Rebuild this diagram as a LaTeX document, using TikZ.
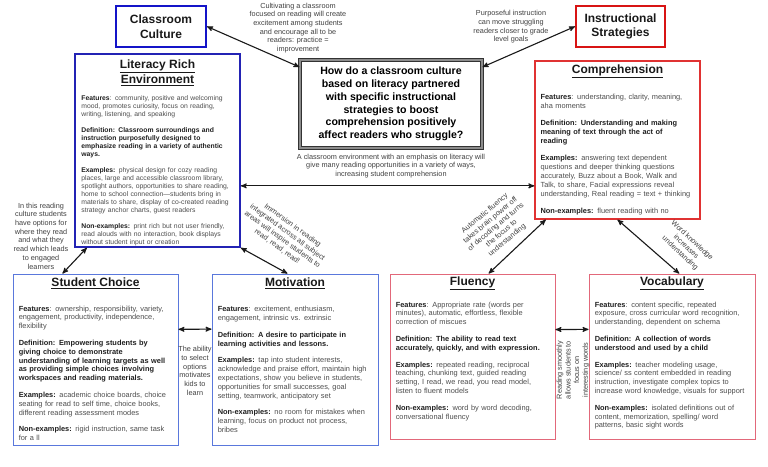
\documentclass[tikz,border=0pt]{standalone}
\usepackage{fontspec}
\setmainfont{Liberation Sans}
\usetikzlibrary{arrows}
\definecolor{cultblue}{HTML}{1414C8}
\definecolor{litblue}{HTML}{2323B4}
\definecolor{lightblue}{HTML}{5A78DC}
\definecolor{strred}{HTML}{D81414}
\definecolor{compred}{HTML}{E03232}
\definecolor{pinkred}{HTML}{E2687A}
\newcommand{\smallnote}{\fontsize{7.3}{8.7}\selectfont}
\newcommand{\bodytext}{\fontsize{7.4}{8.8}\selectfont}
\newcommand{\gap}{\\[8pt]}
\newcommand{\lbl}[1]{\textbf{\color{black!88}#1}}

\begin{document}
\begin{tikzpicture}[x=1pt,y=-1pt,>=stealth']
  \tikzstyle{card}=[rectangle,draw,inner sep=0pt]
  \tikzstyle{head}=[font=\bfseries\fontsize{12}{14.5}\selectfont,align=center,text=black!90]
  \tikzstyle{body}=[anchor=north west,inner sep=0pt,text width=165pt,align=left,
        font=\bodytext,text=black!70]
  \tikzstyle{note}=[align=center,font=\smallnote,text=black!75,inner sep=0pt]
  \tikzstyle{link}=[<->,line width=1.1pt,black!90]
  \useasboundingbox (0,0) rectangle (768,466);

  % top row
  \node [card,head,draw=cultblue,line width=2pt,minimum width=90pt,minimum height=41pt] (cul) at (161,26.5) {Classroom\\Culture};
  \node [card,head,draw=strred,line width=2pt,minimum width=89pt,minimum height=41pt] (ins) at (620.5,26.5) {Instructional\\Strategies};
  \node [card,draw=black!80,double=black!45,line width=1.1pt,double distance=1.6pt,
        minimum width=182pt,minimum height=88pt,align=center,
        font=\bfseries\fontsize{10.6}{12.7}\selectfont] (quest) at (391,104)
        {How do a classroom culture\\based on literacy partnered\\with specific instructional\\strategies to boost\\comprehension positively\\affect readers who struggle?};

  % literacy rich environment
  \node [card,draw=litblue,line width=1.6pt,minimum width=165pt,minimum height=193pt] (lit) at (157.5,150.5) {};
  \node [head] (litH) at ([yshift=-19.5pt]lit.north) {\underline{Literacy Rich}\\\underline{Environment}};
  \node [body,font=\fontsize{6.8}{8}\selectfont] (litB) at ([xshift=7pt,yshift=-42.5pt]lit.north west)
    {\lbl{Features}: community, positive and welcoming\\mood, promotes curiosity, focus on reading,\\writing, listening, and speaking\gap
     \lbl{Definition: Classroom surroundings and}\\\lbl{instruction purposefully designed to}\\\lbl{emphasize reading in a variety of authentic}\\\lbl{ways.}\gap
     \lbl{Examples:} physical design for cozy reading\\places, large and accessible classroom library,\\spotlight authors, opportunities to share reading,\\home to school connection---students bring in\\materials to share, display of co-created reading\\strategy anchor charts, guest readers\gap
     \lbl{Non-examples:} print rich but not user friendly,\\read alouds with no interaction, book displays\\without student input or creation};

  % comprehension
  \node [card,draw=compred,line width=1.3pt,minimum width=165pt,minimum height=158pt] (comp) at (617.5,140) {};
  \node [head] (compH) at ([yshift=-11pt]comp.north) {\underline{Comprehension}};
  \node [body,font=\fontsize{7.4}{9}\selectfont] (compB) at ([xshift=6pt,yshift=-33.5pt]comp.north west)
    {\lbl{Features}: understanding, clarity, meaning,\\aha moments\gap
     \lbl{Definition: Understanding and making}\\\lbl{meaning of text through the act of}\\\lbl{reading}\gap
     \lbl{Examples:} answering text dependent\\questions and deeper thinking questions\\accurately, Buzz about a Book, Walk and\\Talk, to share, Facial expressions reveal\\understanding, Real reading = text + thinking\gap
     \lbl{Non-examples:} fluent reading with no};

  % student choice
  \node [card,draw=lightblue,line width=0.9pt,minimum width=165pt,minimum height=171pt] (cho) at (95.5,359.5) {};
  \node [head] (choH) at ([yshift=-10pt]cho.north) {\underline{Student Choice}};
  \node [body] (choB) at ([xshift=6pt,yshift=-32pt]cho.north west)
    {\lbl{Features}: ownership, responsibility, variety,\\engagement, productivity, independence,\\flexibility\gap
     \lbl{Definition: Empowering students by}\\\lbl{giving choice to demonstrate}\\\lbl{understanding of learning targets as well}\\\lbl{as providing simple choices involving}\\\lbl{workspaces and reading materials.}\gap
     \lbl{Examples:} academic choice boards, choice\\seating for read to self time, choice books,\\different reading assessment modes\gap
     \lbl{Non-examples:} rigid instruction, same task\\for a ll};

  % motivation
  \node [card,draw=lightblue,line width=0.9pt,minimum width=166pt,minimum height=171pt] (mot) at (295,359.5) {};
  \node [head] (motH) at ([yshift=-10pt]mot.north) {\underline{Motivation}};
  \node [body] (motB) at ([xshift=6pt,yshift=-32.5pt]mot.north west)
    {\lbl{Features}: excitement, enthusiasm,\\engagement, intrinsic vs. extrinsic\gap
     \lbl{Definition: A desire to participate in}\\\lbl{learning activities and lessons.}\gap
     \lbl{Examples:} tap into student interests,\\acknowledge and praise effort, maintain high\\expectations, show you believe in students,\\opportunities for small successes, goal\\setting, teamwork, anticipatory set\gap
     \lbl{Non-examples:} no room for mistakes when\\learning, focus on product not process,\\bribes};

  % fluency
  \node [card,draw=pinkred,line width=0.9pt,minimum width=165pt,minimum height=165pt] (flu) at (472.5,356.5) {};
  \node [head] (fluH) at ([yshift=-10pt]flu.north) {\underline{Fluency}};
  \node [body] (fluB) at ([xshift=6pt,yshift=-28pt]flu.north west)
    {\lbl{Features}: Appropriate rate (words per\\minutes), automatic, effortless, flexible\\correction of miscues\gap
     \lbl{Definition: The ability to read text}\\\lbl{accurately, quickly, and with expression.}\gap
     \lbl{Examples:} repeated reading, reciprocal\\teaching, chunking text, guided reading\\setting, I read, we read, you read model,\\listen to fluent models\gap
     \lbl{Non-examples:} word by word decoding,\\conversational fluency};

  % vocabulary
  \node [card,draw=pinkred,line width=0.9pt,minimum width=166pt,minimum height=165pt] (voc) at (672,356.5) {};
  \node [head] (vocH) at ([yshift=-10pt]voc.north) {\underline{Vocabulary}};
  \node [body] (vocB) at ([xshift=6pt,yshift=-28pt]voc.north west)
    {\lbl{Features}: content specific, repeated\\exposure, cross curricular word recognition,\\understanding, dependent on schema\gap
     \lbl{Definition: A collection of words}\\\lbl{understood and used by a child}\gap
     \lbl{Examples:} teacher modeling usage,\\science/ ss content embedded in reading\\instruction, investigate complex topics to\\increase word knowledge, visuals for support\gap
     \lbl{Non-examples:} isolated definitions out of\\content, memorization, spelling/ word\\patterns, basic sight words};

  % notes on the links
  \node [note] (cultN) at (298,28) {Cultivating a classroom\\focused on reading will create\\excitement among students\\and encourage all to be\\readers: practice =\\improvement};
  \node [note] (insN) at (511,27) {Purposeful instruction\\can move struggling\\readers closer to grade\\level goals};
  \node [note] (envN) at (391,166) {A classroom environment with an emphasis on literacy will\\give many reading opportunities in a variety of ways,\\increasing student comprehension};
  \node [note] (choN) at (41,236) {In this reading\\culture students\\have options for\\where they read\\and what they\\read which leads\\to engaged\\learners};
  \node [note,rotate=-36] (motN) at (285,236) {Immersion in reading\\integrated across all subject\\areas will inspire students to\\read, read, read!};
  \node [note,rotate=40] (fluN) at (496,227) {Automatic fluency\\takes brain power off\\of decoding and turns\\the focus to\\understanding};
  \node [note,rotate=-43] (vocN) at (686,247) {Word knowledge\\increases\\understanding};
  \node [note] (ablN) at (195,371) {The ability\\to select\\options\\motivates\\kids to\\learn};
  \node [note,rotate=90] (smoN) at (573,370) {Reading smoothly\\allows students to\\focus on\\interesting words};

  % links
  \draw [link] (cul.east) -- (quest.158);
  \draw [link] (ins.west) -- (quest.22);
  \draw [link] (lit.-23) -- (lit.-23 -| comp.west);
  \draw [link] (lit.234) -- (cho.111);
  \draw [link] (lit.south east) -- (mot.95);
  \draw [link] (comp.228) -- (flu.79);
  \draw [link] (comp.south) -- (voc.85);
  \draw [link] (cho.20) -- (mot.160);
  \draw [link] (flu.18) -- (voc.162);
\end{tikzpicture}
\end{document}
